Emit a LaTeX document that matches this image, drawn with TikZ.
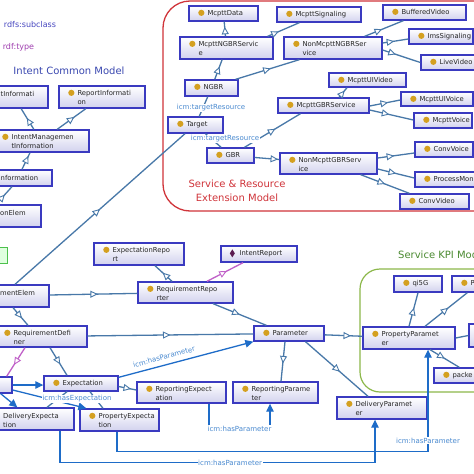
\documentclass[tikz,border=0pt]{standalone}
\usepackage{fontspec}
\newfontfamily\dv{DejaVu Sans}
\usetikzlibrary{arrows.meta,decorations.markings,fit}
\definecolor{nborder}{HTML}{3A3AC0}
\definecolor{nbot}{HTML}{D2D2EE}
\definecolor{dotc}{HTML}{D4A020}
\definecolor{subc}{HTML}{4878A8}
\definecolor{objc}{HTML}{1E6CC8}
\definecolor{typc}{HTML}{C060C8}
\definecolor{lblc}{HTML}{4A8AD0}
\definecolor{redc}{HTML}{D0343A}
\definecolor{grnc}{HTML}{8CB84A}
\definecolor{grntxt}{HTML}{4A8A30}
\definecolor{legblue}{HTML}{4848C0}
\definecolor{legmag}{HTML}{A040B0}
\definecolor{titblue}{HTML}{3A48B0}
\definecolor{diac}{HTML}{5A1A50}
\definecolor{ntxt}{HTML}{262626}
\tikzset{
  nbox/.style={draw=nborder, line width=1.35pt, top color=white, bottom color=nbot, inner sep=0pt, rectangle},
  ntext/.style={font=\dv\fontsize{6.8}{9}\selectfont, text=ntxt, inner sep=0pt, anchor=base west},
  subarr/.style={draw=subc, line width=1.3pt, postaction={decorate},
    decoration={markings, mark=at position #1 with {\arrow[subc,line width=0.9pt]{Triangle[length=7.5pt,width=7pt,fill=white]}}}},
  subarr/.default=0.5,
  typarr/.style={draw=typc, line width=1.3pt, postaction={decorate},
    decoration={markings, mark=at position #1 with {\arrow[typc,line width=0.9pt]{Triangle[length=7.5pt,width=7pt,fill=white]}}}},
  typarr/.default=0.5,
  objarr/.style={draw=objc, line width=1.3pt, -{Triangle[length=8pt,width=7.5pt]}},
  pl/.style={draw=subc, line width=1.3pt},
  lbl/.style={font=\dv\fontsize{7}{8}\selectfont, text=lblc, inner sep=0.6pt},
}
% name, x1, y1, x2, y2, text
\newcommand\onode[6]{%
  \node[nbox, fit={(#2,#3)(#4,#5)}] (#1) {};
  \fill[dotc] ([xshift=13pt,yshift=-7.5pt]#1.north west) circle (3.1pt);
  \node[ntext] (#1-t) at ([xshift=19pt,yshift=-10pt]#1.north west) {\begin{tabular}[t]{@{}l@{}}#6\end{tabular}};
}
% clipped node: name, x1, y1, x2, y2, text x, text
\newcommand\cnode[7]{%
  \node[nbox, fit={(#2,#3)(#4,#5)}] (#1) {};
  \node[ntext, yshift=-10pt] (#1-t) at (#6,#3) {\begin{tabular}[t]{@{}l@{}}#7\end{tabular}};
}
\begin{document}
\begin{tikzpicture}[x=1pt,y=-1pt]
\useasboundingbox (0,0) rectangle (474,474);
\clip (0,0) rectangle (474,474);
\fill[white] (0,0) rectangle (474,474);

% containers
\draw[redc, line width=1.3pt, rounded corners=27pt] (163,1) rectangle (540,211);
\draw[grnc, line width=1.2pt, rounded corners=20pt] (360,269) rectangle (540,392);

% legend and titles
\node[font=\dv\fontsize{8}{9}\selectfont, text=legblue] (leg1) at (30,25) {rdfs:subclass};
\node[font=\dv\fontsize{8}{9}\selectfont, text=legmag] (leg2) at (18.5,47) {rdf:type};
\node[font=\dv\fontsize{10}{12}\selectfont, text=titblue] (tit1) at (69,71) {Intent Common Model};
\node[font=\dv\fontsize{10}{14}\selectfont, text=redc, align=center] (tit2) at (237,191) {Service \& Resource\\Extension Model};
\node[font=\dv\fontsize{10}{12}\selectfont, text=grntxt, anchor=west, inner sep=0pt] (tit3) at (398,255) {Service KPI Model};

% intent common model (left)
\cnode{tinf}{-20}{86}{48}{108}{0.5}{tInformati}
\onode{repinf}{59}{86}{145}{108}{ReportInformati\\on}
\onode{imi}{-7}{130}{89}{152}{IntentManagemen\\tInformation}
\cnode{info}{-40}{170}{52}{186}{-1.5}{Information}
\cnode{onelem}{-40}{205}{41}{227}{0}{onElem}

% service & resource model
\onode{mdata}{189}{6}{258}{21}{McpttData}
\onode{msig}{277}{7}{361}{22}{McpttSignaling}
\onode{buffv}{383}{5}{466}{20}{BufferedVideo}
\onode{mngbr}{180}{37}{273}{59}{McpttNGBRServic\\e}
\onode{nmngbr}{284}{37}{382}{59}{NonMcpttNGBRSer\\vice}
\onode{imss}{409}{29}{473}{44}{ImsSignaling}
\onode{livev}{421}{55}{490}{70}{LiveVideo}
\onode{ngbr}{185}{80}{238}{96}{NGBR}
\onode{target}{168}{117}{223}{133}{Target}
\onode{mgbr}{278}{98}{369}{113}{McpttGBRService}
\onode{muivid}{329}{73}{406}{87}{McpttUIVideo}
\onode{muivoi}{401}{92}{473}{106}{McpttUIVoice}
\onode{mvoice}{414}{113}{472}{128}{McpttVoice}
\onode{gbr}{207}{148}{254}{163}{GBR}
\onode{nmgbr}{280}{153}{377}{174}{NonMcpttGBRServ\\ice}
\onode{convvoi}{415}{142}{473}{157}{ConvVoice}
\onode{procmon}{415}{172}{495}{187}{ProcessMon}
\onode{convvid}{400}{194}{469}{209}{ConvVideo}

% lower part
\node[draw=green!65!black!70, fill=green!12, line width=1pt, inner sep=0pt, fit={(-20,247)(7,263)}] (gbox) {};
\cnode{reqelem}{-60}{285}{49}{307}{0}{mentElem}
\onode{expreport}{94}{243}{184}{265}{ExpectationRepo\\rt}
\node[nbox, fit={(221,246)(297,262)}] (intrep) {};
\fill[diac] ([xshift=12pt,yshift=-4pt]intrep.north west) -- ++(2.5pt,-4pt) -- ++(-2.5pt,-4pt) -- ++(-2.5pt,4pt) -- cycle;
\node[ntext] (intrep-t) at ([xshift=19pt,yshift=-10.5pt]intrep.north west) {IntentReport};
\onode{reqrep}{138}{282}{233}{303}{RequirementRepo\\rter}
\onode{reqdef}{-5}{326}{87}{347}{RequirementDefi\\ner}
\onode{param}{254}{326}{324}{341}{Parameter}
\cnode{small}{-40}{377}{12}{393}{0}{}
\onode{expect}{44}{376}{118}{391}{Expectation}
\cnode{delexp}{-18}{408}{74}{430}{3}{DeliveryExpecta\\tion}
\onode{propexp}{80}{409}{159}{431}{PropertyExpecta\\tion}
\onode{repexp}{137}{382}{226}{403}{ReportingExpect\\ation}
\onode{repparam}{233}{382}{318}{403}{ReportingParame\\ter}
\onode{delparam}{337}{397}{427}{419}{DeliveryParamet\\er}
\onode{propparam}{363}{327}{455}{349}{PropertyParamet\\er}
\onode{qi5g}{394}{276}{442}{292}{qi5G}
\onode{pnode}{452}{276}{520}{292}{P}
\cnode{rsliver}{469}{324}{520}{347}{480}{}
\onode{packe}{434}{368}{520}{383}{packe}

% edges: intent common model
\draw[subarr=0.55] (imi) -- (tinf);
\draw[subarr=0.6] (imi) -- (repinf);
\draw[subarr=0.8] ([xshift=16pt]info.north) -- ([xshift=-11pt]imi.south);
\draw[subarr=0.55] ([xshift=-4.5pt]onelem.north) -- ([xshift=6pt]info.south);
\draw[subarr=0.5] ([xshift=20.5pt]reqelem.north) -- ([xshift=-10.5pt]target.south);

% edges: service & resource
\draw[subarr=0.65] (mngbr) -- (mdata);
\draw[subarr=0.35] ([xshift=-6pt]mngbr.north east) -- ([xshift=23pt]msig.south west);
\draw[subarr=0.65] (ngbr) -- (mngbr);
\draw[subarr=0.55] ([xshift=-3pt]ngbr.north east) -- ([xshift=16pt]nmngbr.south west);
\draw[subarr=0.45] ([xshift=-18pt]nmngbr.north east) -- ([xshift=21pt]buffv.south west);
\draw[subarr=0.45] ([yshift=5pt]nmngbr.east) -- ([yshift=-2.5pt]imss.west);
\draw[subarr=0.35] ([yshift=-2pt]nmngbr.east) -- (livev.west);
\draw[pl] (target) -- (ngbr);
\draw[pl] (target) -- (gbr);
\draw[subarr=0.55] ([xshift=14pt]gbr.north) -- ([xshift=-23pt]mgbr.south);
\draw[subarr=0.95] (gbr) -- (nmgbr);
\draw[subarr=0.45] ([yshift=5.5pt]nmgbr.east) -- ([yshift=-3.5pt]convvoi.west);
\draw[subarr=0.5] ([yshift=-5.5pt]nmgbr.east) -- ([yshift=1.5pt]procmon.west);
\draw[subarr=0.5] ([xshift=-17pt]nmgbr.south east) -- ([xshift=10pt]convvid.north west);
\draw[subarr=0.7] ([xshift=15.5pt]mgbr.north) -- ([xshift=-20.5pt]muivid.south);
\draw[subarr=0.6] ([yshift=-0.5pt]mgbr.east) -- ([yshift=-1pt]muivoi.west);
\draw[subarr=0.45] ([yshift=-4.5pt]mgbr.east) -- ([yshift=0.5pt]mvoice.west);
\node[lbl, fill=white] (ltr1) at (211,108) {icm:targetResource};
\node[lbl, fill=white] (ltr2) at (225,139) {icm:targetResource};

% edges: lower part
\draw[subarr=0.55] (reqelem) -- (reqrep);
\draw[subarr=0.6] ([xshift=18.5pt]reqelem.south) -- ([xshift=-13pt]reqdef.north);
\draw[subarr=0.5] (reqdef) -- (param);
\draw[subarr=0.55] ([xshift=-13.5pt]reqrep.north) -- ([xshift=16pt]expreport.south);
\draw[typarr=0.55] ([xshift=21.5pt]reqrep.north) -- ([xshift=-16pt]intrep.south);
\draw[subarr=0.5] ([xshift=27.5pt]reqrep.south) -- ([xshift=13pt]param.north west);
\draw[subarr=0.55] ([xshift=-4pt]param.south) -- ([xshift=5.5pt]repparam.north);
\draw[subarr=0.55] ([xshift=16.5pt]param.south) -- ([xshift=-14pt]delparam.north);
\draw[subarr=0.7] (param) -- (propparam);
\draw[subarr=0.55] (propparam.north) -- (qi5g.south);
\draw[subarr=0.55] ([xshift=16pt]propparam.north) -- ([xshift=16pt]pnode.south west);
\draw[subarr=0.5] ([xshift=21pt]propparam.south) -- ([xshift=26pt]packe.north west);
\draw[pl] (propparam.east) -- (rsliver.west);
\draw[typarr=0.6] ([xshift=-16pt]reqdef.south) -- ([xshift=-6pt]small.north east);
\draw[subarr=0.6] ([xshift=9pt]reqdef.south) -- ([xshift=-14pt]expect.north);
\draw[subarr=0.7] ([yshift=-3pt]expect.east) -- ([yshift=2.5pt]repexp.west);
\draw[pl] ([xshift=-14pt]expect.south) -- ([xshift=19pt]delexp.north);
\draw[pl] ([xshift=9pt]expect.south) -- ([xshift=-16.5pt]propexp.north);
\draw[objarr] (small.east) -- (small.east -| expect.west);
\draw[objarr] ([xshift=-12pt]small.south east) -- ([xshift=36pt]delexp.north west);
\draw[objarr] ([yshift=-5pt]small.east) -- ([xshift=7pt]propexp.north west);
\node[lbl, fill=white] (lhe) at (77,399) {icm:hasExpectation};
\draw[objarr] ([yshift=-2pt]expect.north east) -- (param.south west);
\node[lbl, rotate=15.2] (lhp1) at (164,357) {icm:hasParameter};
\draw[objarr] ([xshift=27.5pt]repexp.south) -- ++(0,25) -| ([xshift=-5.5pt]repparam.south)
  node[lbl, pos=0.25, fill=white] (lhp2) {icm:hasParameter};
\draw[objarr] ([xshift=-2.5pt]propexp.south) -- ++(0,20) -| ([xshift=19pt]propparam.south)
  node[lbl, pos=0.554, fill=white] (lhp3) {icm:hasParameter};
\draw[objarr] ([xshift=32pt]delexp.south) -- ++(0,32) -| ([xshift=-7pt]delparam.south)
  node[lbl, pos=0.27, fill=white] (lhp4) {icm:hasParameter};
\end{tikzpicture}
\end{document}
